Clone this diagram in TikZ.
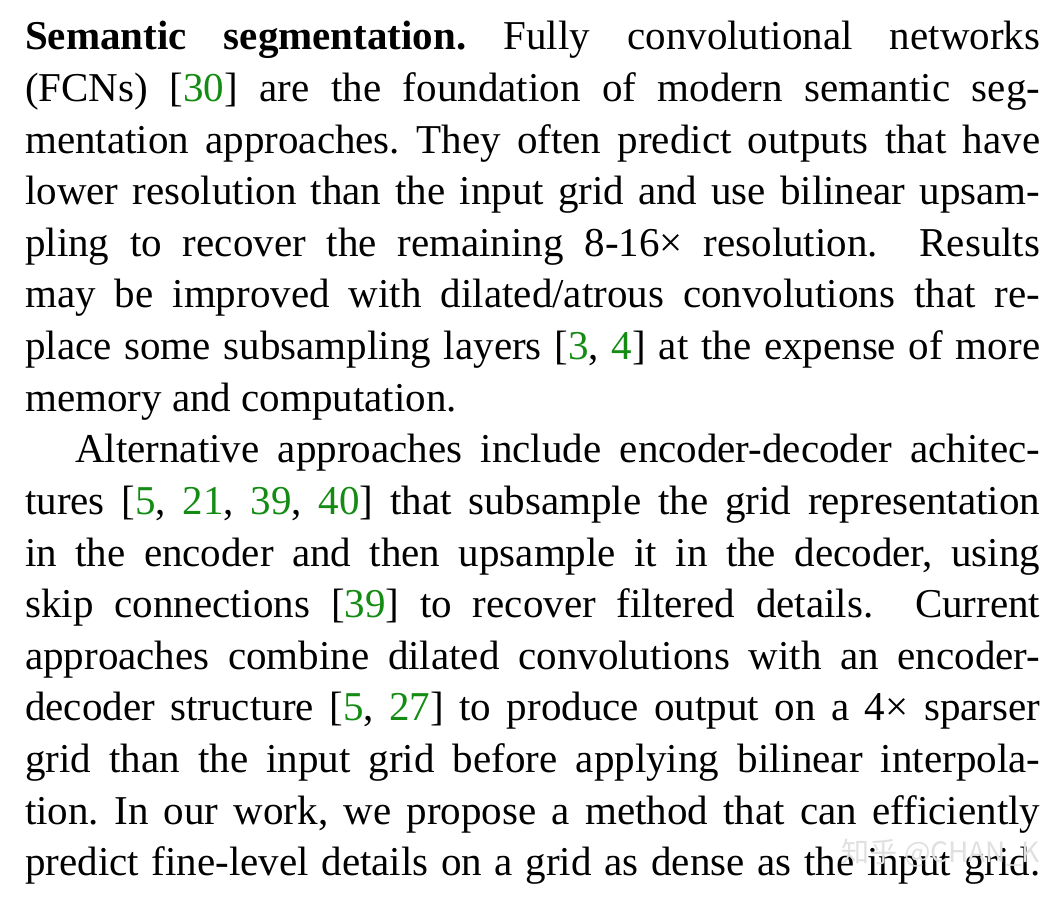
\documentclass[tikz,border=0pt]{standalone}
\usepackage{fontspec}
\setmainfont{Liberation Serif}
\newfontfamily\cjk{Noto Sans CJK SC}
\definecolor{citeg}{RGB}{20,140,20}
\newcommand{\cg}[1]{\textcolor{citeg}{#1}}
\begin{document}
\frenchspacing
\begin{tikzpicture}[x=1pt,y=-1pt,
  ln/.style={anchor=base west,inner sep=0pt,font=\fontsize{41}{41}\selectfont}]
\useasboundingbox (0,0) rectangle (1063,901);
\fill[white] (0,0) rectangle (1063,901);
\def\W{1015pt}
\node[ln] (l1) at (25,50) {\makebox[\W][s]{\textbf{Semantic segmentation.} Fully convolutional networks}};
\node[ln] (l2) at (25,101.6) {\makebox[\W][s]{(FCNs) [\cg{30}] are the foundation of modern semantic seg-}};
\node[ln] (l3) at (25,153.2) {\makebox[\W][s]{mentation approaches. They often predict outputs that have}};
\node[ln] (l4) at (25,204.8) {\makebox[\W][s]{lower resolution than the input grid and use bilinear upsam-}};
\node[ln] (l5) at (25,256.4) {\makebox[\W][s]{pling to recover the remaining 8-16× resolution.\ \ Results}};
\node[ln] (l6) at (25,308) {\makebox[\W][s]{may be improved with dilated/atrous convolutions that re-}};
\node[ln] (l7) at (25,359.6) {\makebox[\W][s]{place some subsampling layers [\cg{3}, \cg{4}] at the expense of more}};
\node[ln] (l8) at (25,411.2) {memory and computation.};
\node[ln] (l9) at (75,462.8) {\makebox[965pt][s]{Alternative approaches include encoder-decoder achitec-}};
\node[ln] (l10) at (25,514.4) {\makebox[\W][s]{tures [\cg{5}, \cg{21}, \cg{39}, \cg{40}] that subsample the grid representation}};
\node[ln] (l11) at (25,566) {\makebox[\W][s]{in the encoder and then upsample it in the decoder, using}};
\node[ln] (l12) at (25,617.6) {\makebox[\W][s]{skip connections [\cg{39}] to recover filtered details.\ \ Current}};
\node[ln] (l13) at (25,669.2) {\makebox[\W][s]{approaches combine dilated convolutions with an encoder-}};
\node[ln] (l14) at (25,720.8) {\makebox[\W][s]{decoder structure [\cg{5}, \cg{27}] to produce output on a 4× sparser}};
\node[ln] (l15) at (25,772.4) {\makebox[\W][s]{grid than the input grid before applying bilinear interpola-}};
\node[ln] (l16) at (25,824) {\makebox[\W][s]{tion. In our work, we propose a method that can efficiently}};
\node[ln] (l17) at (25,875.6) {\makebox[\W][s]{predict fine-level details on a grid as dense as the input grid.}};
\node[anchor=base east,inner sep=0pt,text=black!12,font=\cjk\fontsize{28}{28}\selectfont] (wm) at (1040,862) {知乎 @CHAN\_K};
\end{tikzpicture}
\end{document}
